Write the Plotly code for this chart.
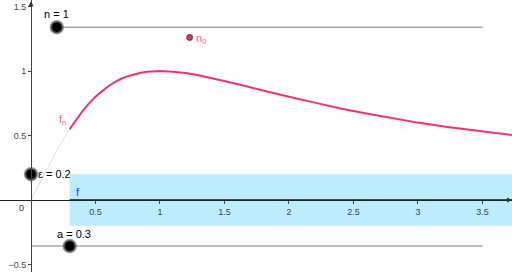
import plotly.graph_objects as go

# ---- data ----
n_val = 1
eps_val = 0.2
a_val = 0.3

# f_n curve, drawn strongly for x >= a
fn_x = [0.3, 0.35, 0.4, 0.45, 0.5, 0.55, 0.6, 0.65, 0.7, 0.75, 0.8, 0.85, 0.9, 0.95, 1.0,
        1.1, 1.2, 1.3, 1.4, 1.5, 1.6, 1.7, 1.8, 1.9, 2.0, 2.2, 2.4, 2.6, 2.8, 3.0, 3.2, 3.4, 3.6, 3.73]
fn_y = [0.550, 0.622, 0.690, 0.749, 0.800, 0.842, 0.882, 0.913, 0.940, 0.960, 0.976, 0.987, 0.994, 0.999, 1.0,
        0.995, 0.984, 0.967, 0.946, 0.923, 0.899, 0.874, 0.849, 0.824, 0.800, 0.755, 0.710, 0.671, 0.634, 0.600, 0.570, 0.543, 0.518, 0.503]
# faint part of f_n for 0 <= x < a
faint_x = [0.0, 0.1, 0.2, 0.3]
faint_y = [0.0, 0.198, 0.385, 0.55]

n0_x = [1.23]
n0_y = [1.26]

x_tick_vals = [0.5, 1, 1.5, 2, 2.5, 3, 3.5]
x_tick_text = ["0.5", "1", "1.5", "2", "2.5", "3", "3.5"]
y_tick_vals = [-0.5, 0.5, 1, 1.5]
y_tick_text = ["\u22120.5", "0.5", "1", "1.5"]

# ---- view ----
X0, X1 = -0.2403, 3.729
Y0, Y1 = -0.558, 1.5504

PINK = "#f2336b"
LABEL_PINK = "#f0608a"
BLUE = "#3333ff"
BAND = "rgba(160,230,255,0.7)"
FONT = "Liberation Sans"

fig = go.Figure()

# band |y| < eps for x >= a
fig.add_shape(type="rect", xref="x", yref="y", x0=a_val, x1=X1, y0=-eps_val, y1=eps_val,
              fillcolor=BAND, line=dict(width=0), layer="below")

# slider lines
n_slider = dict(x0=0.2, x1=3.5, y=1.34)
a_slider = dict(x0=0.0, x1=3.5, y=-0.357)
fig.add_trace(go.Scatter(x=[n_slider["x0"], n_slider["x1"]], y=[n_slider["y"]] * 2, mode="lines",
                         line=dict(color="#a8a8a8", width=1.5), hoverinfo="skip"))
fig.add_trace(go.Scatter(x=[a_slider["x0"], a_slider["x1"]], y=[a_slider["y"]] * 2, mode="lines",
                         line=dict(color="#a8a8a8", width=1.5), hoverinfo="skip"))

# f (limit function y = 0 from a)
fig.add_trace(go.Scatter(x=[a_val, X1], y=[0, 0], mode="lines",
                         line=dict(color=BLUE, width=2), hoverinfo="skip"))

# faint part of f_n
fig.add_trace(go.Scatter(x=faint_x, y=faint_y, mode="lines",
                         line=dict(color="rgba(225,200,210,0.7)", width=1), hoverinfo="skip"))
# f_n
fig.add_trace(go.Scatter(x=fn_x, y=fn_y, mode="lines",
                         line=dict(color=PINK, width=2), hoverinfo="skip"))

# slider points
fig.add_trace(go.Scatter(x=[n_slider["x0"], 0.0, a_val], y=[n_slider["y"], eps_val, a_slider["y"]],
                         mode="markers",
                         marker=dict(size=12, color="black", line=dict(color="rgba(110,110,110,0.7)", width=2.5)),
                         hoverinfo="skip"))

# n0 point
fig.add_trace(go.Scatter(x=n0_x, y=n0_y, mode="markers",
                         marker=dict(size=6, color="#d8325e", line=dict(color="#444", width=1)),
                         hoverinfo="skip"))

ann = []
ann.append(dict(x=n_slider["x0"], y=n_slider["y"], yshift=13, text=f"n = {n_val}", showarrow=False,
                font=dict(family=FONT, size=11, color="black")))
ann.append(dict(x=0.0, y=eps_val, xshift=5, text=f"\u03b5 = {eps_val}", showarrow=False, xanchor="left",
                font=dict(family=FONT, size=11, color="black")))
ann.append(dict(x=a_val, y=a_slider["y"], xshift=4, yshift=12, text=f"a = {a_val}", showarrow=False,
                font=dict(family=FONT, size=11, color="black")))
ann.append(dict(x=0.33, y=0.0, yshift=8, text="f", showarrow=False, xanchor="left",
                font=dict(family=FONT, size=11, color=BLUE)))
ann.append(dict(x=0.2, y=0.62, text="f<sub>n</sub>", showarrow=False, xanchor="left",
                font=dict(family=FONT, size=11, color=LABEL_PINK)))
ann.append(dict(x=n0_x[0], y=n0_y[0], xshift=4, yshift=-2, text="n<sub>0</sub>", showarrow=False, xanchor="left",
                font=dict(family=FONT, size=11, color=LABEL_PINK)))
ann.append(dict(x=-0.07, y=-0.065, text="0", showarrow=False,
                font=dict(family=FONT, size=9, color="#333")))
# axis arrows
ann.append(dict(x=X1, y=0, ax=-6, ay=0, axref="pixel", ayref="pixel", xref="x", yref="y",
                showarrow=True, arrowhead=2, arrowsize=1, arrowwidth=1, arrowcolor="#333", text=""))
ann.append(dict(x=0, y=Y1 - 0.01, ax=0, ay=6, axref="pixel", ayref="pixel", xref="x", yref="y",
                showarrow=True, arrowhead=2, arrowsize=1, arrowwidth=1, arrowcolor="#333", text=""))

fig.update_layout(
    width=512, height=272, margin=dict(l=0, r=0, t=0, b=0),
    paper_bgcolor="white", plot_bgcolor="white", showlegend=False,
    annotations=ann,
    xaxis=dict(range=[X0, X1], showgrid=False, zeroline=False, showline=True, linecolor="#222", linewidth=1,
               anchor="free", position=(0 - Y0) / (Y1 - Y0), ticks="outside", ticklen=3, tickcolor="#444",
               tickvals=x_tick_vals, ticktext=x_tick_text,
               tickfont=dict(family=FONT, size=9, color="#444"), fixedrange=True),
    yaxis=dict(range=[Y0, Y1], showgrid=False, zeroline=False, showline=True, linecolor="#444", linewidth=1,
               anchor="free", position=(0 - X0) / (X1 - X0), ticks="outside", ticklen=3, tickcolor="#444",
               tickvals=y_tick_vals, ticktext=y_tick_text,
               tickfont=dict(family=FONT, size=9, color="#444"), fixedrange=True),
)

fig.write_html("out.html")
